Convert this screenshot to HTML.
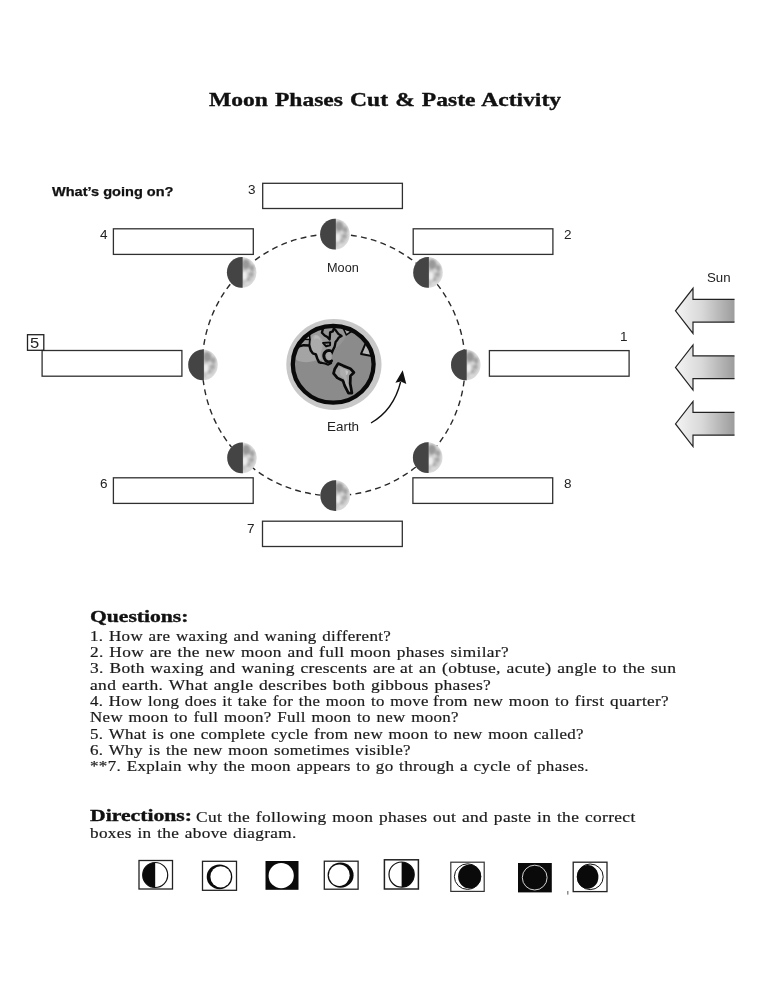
<!DOCTYPE html>
<html>
<head>
<meta charset="utf-8">
<title>Moon Phases Cut &amp; Paste Activity</title>
<style>
html,body{margin:0;padding:0;background:#fff;}
body{width:768px;height:994px;position:relative;overflow:hidden;font-family:"Liberation Sans",sans-serif;color:#222;}
.t{position:absolute;white-space:nowrap;transform-origin:0 0;line-height:1;}
.serif{font-family:"Liberation Serif",serif;color:#1a1a1a;}
.sans{font-family:"Liberation Sans",sans-serif;color:#222;}
.q{font-size:15px;letter-spacing:0.3px;word-spacing:0.9px;-webkit-text-stroke:0.2px #1a1a1a;}
.hb{-webkit-text-stroke:0.35px #111;word-spacing:1px;}
svg{position:absolute;left:0;top:0;}
</style>
</head>
<body>

<!-- title -->
<div class="t serif hb" id="title" style="left:208.6px;top:90.3px;font-size:19px;font-weight:bold;color:#111;transform:scaleX(1.2387);">Moon Phases Cut &amp; Paste Activity</div>

<!-- heading -->
<div class="t sans" id="whats" style="left:51.5px;top:186px;font-size:12.6px;font-weight:bold;color:#111;-webkit-text-stroke:0.25px #111;transform:scaleX(1.1553);">What&#8217;s going on?</div>

<!-- numbers -->
<div class="t sans n" id="n3" style="left:247.6px;top:183.9px;font-size:12.3px;transform:scaleX(1.1);">3</div>
<div class="t sans n" id="n4" style="left:100.3px;top:229.2px;font-size:12.3px;transform:scaleX(1.1);">4</div>
<div class="t sans n" id="n2" style="left:564px;top:229.2px;font-size:12.3px;transform:scaleX(1.1);">2</div>
<div class="t sans n" id="n1" style="left:620.3px;top:330.8px;font-size:12.3px;transform:scaleX(1.1);">1</div>
<div class="t sans n" id="n5" style="left:29.6px;top:335.3px;font-size:15px;transform:scaleX(1.1);">5</div>
<div class="t sans n" id="n6" style="left:100.3px;top:478px;font-size:12.3px;transform:scaleX(1.1);">6</div>
<div class="t sans n" id="n8" style="left:563.8px;top:478px;font-size:12.3px;transform:scaleX(1.1);">8</div>
<div class="t sans n" id="n7" style="left:247.2px;top:523.4px;font-size:12.3px;transform:scaleX(1.1);">7</div>

<!-- labels -->
<div class="t sans" id="lmoon" style="left:326.5px;top:262.1px;font-size:12.6px;transform:scaleX(1.0090);">Moon</div>
<div class="t sans" id="learth" style="left:326.5px;top:420.5px;font-size:12.6px;transform:scaleX(1.0661);">Earth</div>
<div class="t sans" id="lsun" style="left:707px;top:271.9px;font-size:12.6px;transform:scaleX(1.0525);">Sun</div>

<!-- diagram -->
<svg id="diagram" width="768" height="994" viewBox="0 0 768 994">
  <defs>
    <linearGradient id="ag" x1="0" y1="0" x2="1" y2="0">
      <stop offset="0" stop-color="#f4f4f4"/>
      <stop offset="0.45" stop-color="#d8d8d8"/>
      <stop offset="1" stop-color="#9c9c9c"/>
    </linearGradient>
    <radialGradient id="mg" cx="0.5" cy="0.5" r="0.5">
      <stop offset="0" stop-color="#bdbdbd"/>
      <stop offset="0.75" stop-color="#c6c6c6"/>
      <stop offset="1" stop-color="#dedede"/>
    </radialGradient>
    <filter id="hb" x="-10%" y="-10%" width="120%" height="120%"><feGaussianBlur stdDeviation="0.7"/></filter>
    <filter id="mb" x="-50%" y="-50%" width="200%" height="200%"><feGaussianBlur stdDeviation="1.1"/></filter>
    <clipPath id="mc"><ellipse cx="0" cy="0" rx="14.8" ry="15.4"/></clipPath>
    <g id="moon">
      <ellipse cx="0" cy="0" rx="14.8" ry="15.4" fill="url(#mg)"/>
      <g clip-path="url(#mc)">
        <g filter="url(#mb)">
          <ellipse cx="4.2" cy="-8" rx="3.8" ry="4.8" fill="#989898"/>
          <ellipse cx="10" cy="-4.4" rx="2.4" ry="3" fill="#a2a2a2"/>
          <ellipse cx="9.4" cy="2" rx="2.2" ry="2.4" fill="#a6a6a6"/>
          <ellipse cx="5.6" cy="6.4" rx="2.4" ry="2.2" fill="#a8a8a8"/>
          <ellipse cx="3" cy="3.4" rx="2.6" ry="4.6" fill="#ededed"/>
          <ellipse cx="7" cy="-1.5" rx="2" ry="1.6" fill="#dcdcdc"/>
          <ellipse cx="6" cy="11" rx="3" ry="2" fill="#dadada"/>
        </g>
      </g>
      <path d="M0.9,-15.4 L0,-15.4 A14.8,15.4 0 0 0 0,15.4 L0.9,15.4 Z" fill="#444"/>
    </g>
    <g id="sunarrow">
      <path d="M0,0 L17.5,-22.5 L17.5,-11.5 L59,-11.5 L59,11.3 L17.5,11.3 L17.5,22.6 Z" fill="url(#ag)"/>
      <path d="M59,-11.5 L17.5,-11.5 L17.5,-22.5 L0,0 L17.5,22.6 L17.5,11.3 L59,11.3" fill="none" stroke="#222" stroke-width="1.2" stroke-linejoin="miter"/>
    </g>
  </defs>

  <!-- answer boxes -->
  <rect x="262.7" y="183.3" width="139.7" height="25.2" fill="#fff" stroke="#303030" stroke-width="1.3"/>
  <rect x="113.4" y="228.8" width="139.9" height="25.6" fill="#fff" stroke="#303030" stroke-width="1.3"/>
  <rect x="413.2" y="228.8" width="139.7" height="25.6" fill="#fff" stroke="#303030" stroke-width="1.3"/>
  <rect x="489.4" y="350.6" width="139.7" height="25.6" fill="#fff" stroke="#303030" stroke-width="1.3"/>
  <rect x="42.1" y="350.5" width="139.8" height="25.7" fill="#fff" stroke="#303030" stroke-width="1.3"/>
  <rect x="113.4" y="477.8" width="139.8" height="25.6" fill="#fff" stroke="#303030" stroke-width="1.3"/>
  <rect x="412.9" y="477.8" width="139.8" height="25.6" fill="#fff" stroke="#303030" stroke-width="1.3"/>
  <rect x="262.5" y="521.2" width="139.8" height="25.3" fill="#fff" stroke="#303030" stroke-width="1.3"/>
  <rect x="27.5" y="334.7" width="16.3" height="15.6" fill="none" stroke="#222" stroke-width="1.3"/>
  <!-- orbit -->
  <ellipse cx="333.7" cy="364.9" rx="131.4" ry="130.8" fill="none" stroke="#2a2a2a" stroke-width="1.4" stroke-dasharray="5.9,4.25" stroke-dashoffset="4.6"/>

  <!-- moons -->
  <use href="#moon" x="334.9" y="234.2"/>
  <use href="#moon" x="428" y="272.4"/>
  <use href="#moon" x="465.8" y="364.8"/>
  <use href="#moon" x="427.7" y="457.6"/>
  <use href="#moon" x="335.2" y="495.7"/>
  <use href="#moon" x="242" y="457.8"/>
  <use href="#moon" x="203" y="364.8"/>
  <use href="#moon" x="241.7" y="272.3"/>

  <!-- sun arrows -->
  <use href="#sunarrow" x="675.5" y="310.8"/>
  <use href="#sunarrow" x="675.5" y="367.4"/>
  <use href="#sunarrow" x="675.5" y="423.9"/>

  <!-- rotation arrow -->
  <path d="M371,423 C384,415.5 395.5,402.5 400.6,382" fill="none" stroke="#111" stroke-width="1.35"/>
  <path d="M402.7,370.2 L406.3,384 L400.8,381.6 L395.4,382.8 Z" fill="#111"/>

  <!-- earth -->
  <g id="earth">
    <ellipse cx="333.9" cy="364.5" rx="47.6" ry="45.4" fill="#c8c8c8" filter="url(#hb)"/>
    <ellipse cx="333.2" cy="364.3" rx="40.4" ry="38.4" fill="#8b8b8b"/>
    <clipPath id="ec"><ellipse cx="333.2" cy="364.3" rx="40.4" ry="38.4"/></clipPath>
    <g clip-path="url(#ec)">
      <!-- z2 space: region [290,320]-[360,370] magnified 10.97x -->
      <g transform="translate(290,320) scale(0.09115)">
        <!-- lighter ocean band, upper area -->
        <path d="M40,420 C90,470 200,470 300,420 C420,360 560,330 640,120 L640,20 L20,20 Z" fill="#959595"/>
        <!-- pale ocean glow at left -->
        <path d="M70,440 C60,380 80,310 130,300 L215,290 L260,380 L300,440 C220,470 130,470 70,440 Z" fill="#a4a4a4"/>
        <!-- North America land -->
        <path d="M95,288 L150,274 L212,278 L228,335 L250,366 L284,378 L300,425 L318,462 L340,470 L336,440 L352,452 L384,478 L420,490 L452,472 L458,440 L455,372 L470,332 L490,292 L500,242 L520,216 L536,192 L566,176 L530,152 L496,106 L480,94 L470,124 L440,136 L435,214 L410,186 L380,170 L350,140 L360,100 L340,86 L250,120 L170,170 L110,240 Z" fill="#9b9b9b"/>
        <!-- land highlight band -->
        <path d="M250,175 C290,150 330,175 350,215 C370,255 360,300 340,350 C330,390 340,420 350,440 L310,420 L290,372 L262,360 L238,325 L228,280 C232,240 232,200 250,175 Z" fill="#ababab"/>
        <path d="M270,170 C300,160 330,190 330,220 C300,200 280,200 262,215 Z" fill="#b9b9b9"/>
        <!-- NA outline strokes -->
        <path d="M95,288 L150,276 L212,280 L228,335 L250,366 L284,378 L300,425 L318,462 L340,470" fill="none" stroke="#0a0a0a" stroke-width="27.2" stroke-linejoin="round" stroke-linecap="round"/>
        <path d="M455,372 L470,332 L490,292 L500,242 L520,216 L536,192 L566,176 L530,152 L496,106 L480,94 L470,124 L440,136 L435,214 L410,186 L380,170 L350,140 L360,100 L340,88" fill="none" stroke="#0a0a0a" stroke-width="25.6" stroke-linejoin="round" stroke-linecap="round"/>
        <path d="M100,270 L150,282 L108,300 Z" fill="#0a0a0a"/>
        <!-- Alaska pale triangle -->
        <path d="M120,215 L214,150 L220,214 Z" fill="#bdbdbd"/>
        <path d="M140,212 L220,214 L213,160" fill="none" stroke="#0a0a0a" stroke-width="17" stroke-linejoin="round" stroke-linecap="round"/>
        <path d="M218,212 L212,280" fill="none" stroke="#0a0a0a" stroke-width="19.2"/>
        <!-- lake -->
        <path d="M362,252 L440,246 L440,278 L396,290 Z" fill="#9a9a9a" stroke="#0a0a0a" stroke-width="20.8" stroke-linejoin="round"/>
        <path d="M390,276 L420,270 L404,294 Z" fill="#0a0a0a"/>
        <!-- gulf C -->
        <path d="M446,338 C396,326 356,366 376,420 C392,462 432,470 456,448" fill="none" stroke="#0a0a0a" stroke-width="32" stroke-linecap="round"/>
        <path d="M440,352 C410,350 390,380 400,412 C410,438 436,444 452,432 L460,370 Z" fill="#a8a8a8"/>
        <path d="M340,470 L384,478 L420,490 L452,472" fill="none" stroke="#0a0a0a" stroke-width="22.4" stroke-linecap="round" stroke-linejoin="round"/>
        <!-- Greenland-ish triangle -->
        <path d="M586,94 L676,124 L618,164 Z" fill="#a8a8a8" stroke="#0a0a0a" stroke-width="17" stroke-linejoin="round"/>
      </g>
      <!-- z1 space: region [280,312]-[390,416] magnified 6.982x -->
      <g transform="translate(280,312) scale(0.14323)">
        <!-- South America -->
        <path d="M406,360 L442,376 L492,396 L516,422 L492,446 L490,500 L502,566 L478,566 L452,516 L440,480 L400,460 L374,428 L382,398 Z" fill="#9e9e9e" stroke="#0a0a0a" stroke-width="19.2" stroke-linejoin="round"/>
        <path d="M420,385 L470,405 L462,440 L474,500 L482,540 L458,500 L446,460 L420,440 Z" fill="#adadad"/>
        <path d="M456,408 L478,412 L470,438 L462,440 Z" fill="#c4c4c4"/>
        <!-- Africa/Europe triangle at right -->
        <path d="M596,222 L668,320 L566,293 Z" fill="#b6b6b6"/>
        <path d="M596,222 L566,293 L640,307" fill="none" stroke="#0a0a0a" stroke-width="14" stroke-linejoin="round" stroke-linecap="round"/>
      </g>
    </g>
    <ellipse cx="333.2" cy="364.3" rx="40.4" ry="38.4" fill="none" stroke="#0a0a0a" stroke-width="4.3"/>
  </g>
</svg>

<!-- questions -->
<div class="t serif hb" id="qh" style="left:89.6px;top:609.4px;font-size:16.6px;font-weight:bold;color:#111;transform:scaleX(1.3015);">Questions:</div>
<div class="t serif q" id="q1" style="left:90px;top:628.5px;transform:scaleX(1.1307);">1. How are waxing and waning different?</div>
<div class="t serif q" id="q2" style="left:90px;top:644.9px;transform:scaleX(1.1523);">2. How are the new moon and full moon phases similar?</div>
<div class="t serif q" id="q3" style="left:90px;top:661.2px;transform:scaleX(1.1598);">3. Both waxing and waning crescents are</div>
<div class="t serif q" id="q3b" style="left:399.9px;top:661.2px;transform:scaleX(1.1667);">at an (obtuse, acute) angle to the sun</div>
<div class="t serif q" id="q4" style="left:90px;top:677.6px;transform:scaleX(1.1632);">and earth. What angle describes both gibbous phases?</div>
<div class="t serif q" id="q5" style="left:90px;top:693.9px;transform:scaleX(1.1187);">4. How long does it take for the moon to move</div>
<div class="t serif q" id="q5b" style="left:433.4px;top:693.9px;transform:scaleX(1.1468);">from new moon to first quarter?</div>
<div class="t serif q" id="q6" style="left:90px;top:710.3px;transform:scaleX(1.1283);">New moon to full moon? Full moon to new moon?</div>
<div class="t serif q" id="q7" style="left:90px;top:726.6px;transform:scaleX(1.1276);">5. What is one complete cycle from new moon to new moon called?</div>
<div class="t serif q" id="q8" style="left:90px;top:743px;transform:scaleX(1.1329);">6. Why is the new moon sometimes visible?</div>
<div class="t serif q" id="q9" style="left:90px;top:759.3px;transform:scaleX(1.1327);">**7. Explain why the moon appears to go through a cycle of phases.</div>

<!-- directions -->
<div class="t serif hb" id="dh" style="left:89.6px;top:807.7px;font-size:16.6px;font-weight:bold;color:#111;transform:scaleX(1.3070);">Directions:</div>
<div class="t serif q" id="d1" style="left:195.8px;top:809.5px;transform:scaleX(1.1578);">Cut the following moon phases out and paste in the correct</div>
<div class="t serif q" id="d2" style="left:90px;top:826.1px;transform:scaleX(1.1449);">boxes in the above diagram.</div>

<!-- cut-out phases -->
<svg id="phases" width="768" height="994" viewBox="0 0 768 994">
  <!-- 1: left half dark -->
  <rect x="139" y="860.5" width="33.5" height="28.5" fill="#fff" stroke="#222" stroke-width="1.3"/>
  <circle cx="155.2" cy="875" r="12.5" fill="#fff" stroke="#111" stroke-width="1.2"/>
  <path d="M155.2,862.5 A12.5,12.5 0 0 0 155.2,887.5 Z" fill="#0a0a0a"/>
  <!-- 2: thick left crescent -->
  <rect x="202.5" y="861.3" width="34" height="29" fill="#fff" stroke="#222" stroke-width="1.3"/>
  <ellipse cx="219.5" cy="876.8" rx="12.8" ry="12.4" fill="#0a0a0a"/>
  <ellipse cx="220.7" cy="876.8" rx="10.3" ry="10.6" fill="#fff"/>
  <!-- 3: full, black box -->
  <rect x="265.5" y="861" width="33" height="28.8" fill="#0a0a0a"/>
  <circle cx="281.2" cy="875.7" r="12.6" fill="#fff"/>
  <!-- 4: thick right crescent -->
  <rect x="324.3" y="861.2" width="33.8" height="28" fill="#fff" stroke="#222" stroke-width="1.3"/>
  <ellipse cx="340.6" cy="875.2" rx="13" ry="12.6" fill="#0a0a0a"/>
  <ellipse cx="339.3" cy="875.2" rx="10.4" ry="10.8" fill="#fff"/>
  <!-- 5: right half dark -->
  <rect x="384.4" y="859.8" width="34" height="29.2" fill="#fff" stroke="#222" stroke-width="1.5"/>
  <circle cx="401.6" cy="874.6" r="12.6" fill="#fff" stroke="#111" stroke-width="1.2"/>
  <path d="M401.6,862 A12.6,12.6 0 0 1 401.6,887.2 Z" fill="#0a0a0a"/>
  <!-- 6: dark gibbous, white crescent left -->
  <rect x="450.8" y="862.2" width="33.4" height="29.2" fill="#fff" stroke="#333" stroke-width="1.2"/>
  <ellipse cx="467.6" cy="876.6" rx="13.2" ry="12.8" fill="#fff" stroke="#111" stroke-width="1"/>
  <ellipse cx="469.6" cy="876.6" rx="11.5" ry="12" fill="#0a0a0a"/>
  <!-- 7: new moon black box -->
  <rect x="518" y="863" width="33.8" height="29.4" fill="#0a0a0a"/>
  <circle cx="534.7" cy="877.6" r="12.4" fill="none" stroke="#e8e8e8" stroke-width="0.9"/>
  <!-- 8: dark, white crescent right -->
  <rect x="573.2" y="862.2" width="33.8" height="29.4" fill="#fff" stroke="#222" stroke-width="1.3"/>
  <ellipse cx="590.2" cy="876.8" rx="13" ry="12.8" fill="#fff" stroke="#111" stroke-width="1"/>
  <ellipse cx="587.7" cy="876.9" rx="10.7" ry="11.9" fill="#0a0a0a"/>
  <!-- stray mark -->
  <rect x="567.4" y="891" width="0.9" height="3.6" fill="#444"/>
</svg>

</body>
</html>
